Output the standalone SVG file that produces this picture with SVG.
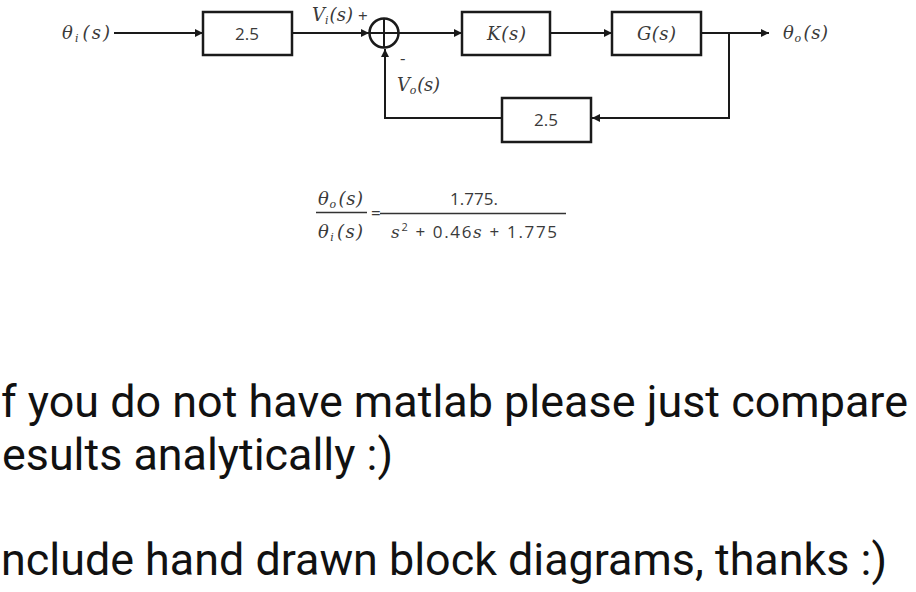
<svg xmlns="http://www.w3.org/2000/svg" width="916" height="592" viewBox="0 0 916 592">
<style>
.box{fill:#fff;stroke:#1a1a1a;stroke-width:2.5}
.ln{fill:none;stroke:#1a1a1a;stroke-width:2}
.m{font-family:"DejaVu Serif","Liberation Serif",serif;font-style:italic;font-size:18px;fill:#3a3a3a}
.sub{font-size:11px}
.num{font-family:"Open Sans","Liberation Sans",sans-serif;font-size:17px;fill:#3a3a3a}
.big{font-family:Roboto,"Liberation Sans",sans-serif;font-size:45px;fill:#111}
</style>
<defs>
<marker id="arr" viewBox="0 0 10 10" refX="10" refY="5" markerWidth="9" markerHeight="8" markerUnits="userSpaceOnUse" orient="auto">
<path d="M0,0 L10,5 L0,10 z" fill="#1a1a1a"/>
</marker>
</defs>
<rect width="916" height="592" fill="#fff"/>
<g id="connectors">
<line class="ln" x1="114" y1="33" x2="203" y2="33" marker-end="url(#arr)"/>
<line class="ln" x1="292" y1="33" x2="369" y2="33" marker-end="url(#arr)"/>
<line class="ln" x1="399" y1="33" x2="462" y2="33" marker-end="url(#arr)"/>
<line class="ln" x1="550" y1="33" x2="612" y2="33" marker-end="url(#arr)"/>
<line class="ln" x1="701" y1="33" x2="769" y2="33" marker-end="url(#arr)"/>
<polyline class="ln" points="729,33 729,118 592,118" marker-end="url(#arr)"/>
<polyline class="ln" points="502,118 385,118 385,49" marker-end="url(#arr)"/>
</g>
<g id="input">
<text class="m" x="62" y="39" textLength="48">θ<tspan class="sub" dy="3">i</tspan><tspan dy="-3" dx="2">(s)</tspan></text>
</g>
<g id="gain1">
<rect class="box" x="203" y="12" width="89" height="43"/>
<text class="num" x="247" y="40" text-anchor="middle">2.5</text>
</g>
<g id="sum">
<circle cx="384" cy="33" r="14.5" fill="#fff" stroke="#1a1a1a" stroke-width="2.5"/>
<line class="ln" x1="369.5" y1="33" x2="398.5" y2="33" stroke-width="2.5"/>
<line class="ln" x1="384" y1="18.5" x2="384" y2="47.5" stroke-width="2.5"/>
<text class="m" x="312" y="21" textLength="41">V<tspan class="sub" dy="3">i</tspan><tspan dy="-3" dx="1">(s)</tspan></text>
<text class="num" x="358" y="22" font-size="13" fill="#2a6a55">+</text>
<text class="num" x="400" y="64" font-size="13">-</text>
<text class="m" x="397" y="91" textLength="43">V<tspan class="sub" dy="3">o</tspan><tspan dy="-3" dx="1">(s)</tspan></text>
</g>
<g id="K">
<rect class="box" x="462" y="12" width="88" height="43"/>
<text class="m" x="487" y="40" textLength="39">K(s)</text>
</g>
<g id="G">
<rect class="box" x="612" y="12" width="89" height="43"/>
<text class="m" x="637" y="40" textLength="39">G(s)</text>
</g>
<g id="output">
<text class="m" x="783" y="39" textLength="45">θ<tspan class="sub" dy="3">o</tspan><tspan dy="-3" dx="2">(s)</tspan></text>
</g>
<g id="gain2">
<rect class="box" x="502" y="98" width="89" height="44"/>
<text class="num" x="546" y="126" text-anchor="middle">2.5</text>
</g>
<g id="equation">
<text class="m" x="318" y="205" textLength="45" font-size="17">θ<tspan class="sub" dy="3">o</tspan><tspan dy="-3" dx="2">(s)</tspan></text>
<line x1="316" y1="212.5" x2="367" y2="212.5" stroke="#333" stroke-width="1.3"/>
<text class="m" x="318" y="238" textLength="45" font-size="17">θ<tspan class="sub" dy="3">i</tspan><tspan dy="-3" dx="2">(s)</tspan></text>
<text class="num" x="371" y="219" font-size="17">=</text>
<text class="num" x="450" y="205" font-size="16" textLength="48">1.775.</text>
<line x1="380" y1="213.5" x2="566" y2="213.5" stroke="#333" stroke-width="1.3"/>
<text class="num" x="391" y="238" font-size="16" textLength="166"><tspan font-family="DejaVu Serif,serif" font-style="italic" font-size="17">s</tspan><tspan font-size="11" dy="-7">2</tspan><tspan dy="7"> + 0.46</tspan><tspan font-family="DejaVu Serif,serif" font-style="italic" font-size="17">s</tspan><tspan> + 1.775</tspan></text>
</g>
<g id="message">
<text class="big" x="1" y="417" textLength="907" lengthAdjust="spacingAndGlyphs">f you do not have matlab please just compare</text>
<text class="big" x="2" y="470" textLength="391" lengthAdjust="spacingAndGlyphs">esults analytically :)</text>
<text class="big" x="1" y="575" textLength="886" lengthAdjust="spacingAndGlyphs">nclude hand drawn block diagrams, thanks :)</text>
</g>
</svg>
